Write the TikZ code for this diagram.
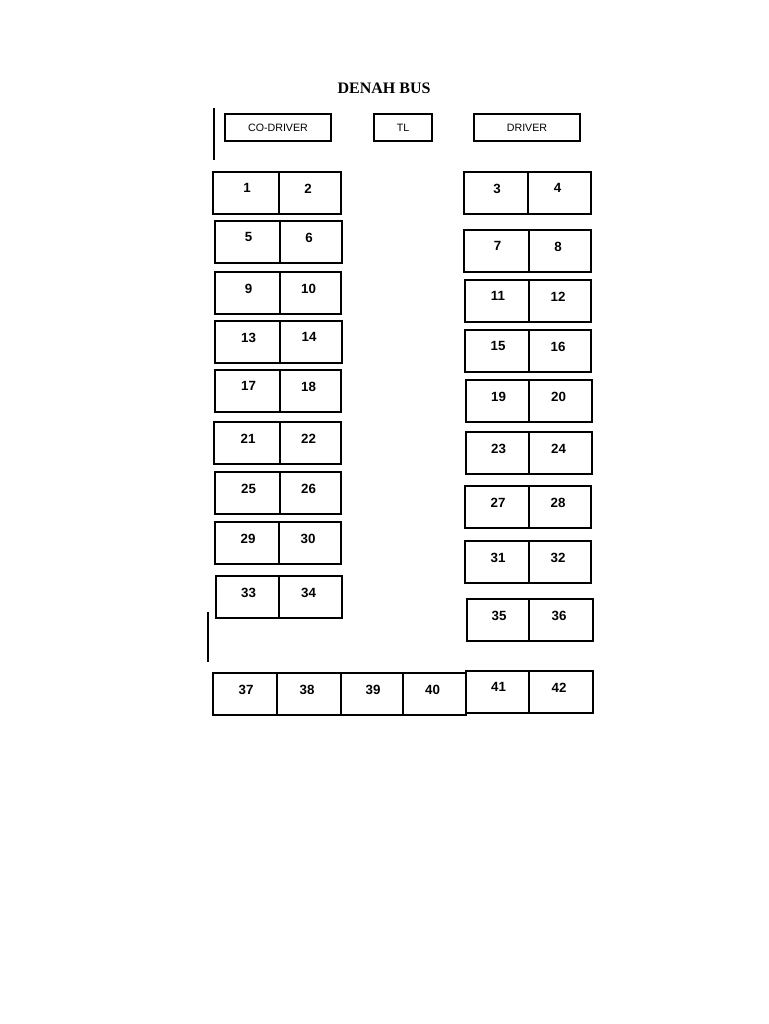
\documentclass[tikz,border=0pt]{standalone}
\usepackage{fontspec}
\setmainfont{Liberation Sans}
\newfontfamily\titlefont{Liberation Serif}
\begin{document}
\begin{tikzpicture}[x=0.75pt,y=-0.75pt,
  seatbox/.style={draw,line width=1.6pt,inner sep=0pt},
  seatnum/.style={font=\bfseries\fontsize{10}{12}\selectfont,anchor=north},
  topbox/.style={draw,line width=1.5pt,inner sep=0pt,font=\fontsize{8}{10}\selectfont}]
\useasboundingbox (0,0) rectangle (768,1024);
\node[font=\titlefont\bfseries\fontsize{12}{14}\selectfont] (title) at (384,88) {DENAH BUS};
\node[topbox,minimum width=79.5pt,minimum height=20pt] (codriver) at (278,127.5) {CO-DRIVER};
\node[topbox,minimum width=43.5pt,minimum height=20pt] (tl) at (403,127.5) {TL};
\node[topbox,minimum width=79.5pt,minimum height=20pt] (driver) at (527,127.5) {DRIVER};
\draw[line width=1.5pt] (214,108) -- (214,160);
\draw[line width=1.5pt] (208,612) -- (208,662);
\foreach \xa/\xb/\xc/\ya/\na/\nb in {
 213/279/341/172/1/2, 215/280/342/221/5/6, 215/280/341/272/9/10,
 215/280/342/321/13/14, 215/280/341/370/17/18, 214/280/341/422/21/22,
 215/280/341/472/25/26, 215/279/341/522/29/30, 216/279/342/576/33/34,
 464/528/591/172/3/4, 464/529/591/230/7/8, 465/529/591/280/11/12,
 465/529/591/330/15/16, 466/529/592/380/19/20, 466/529/592/432/23/24,
 465/529/591/486/27/28, 465/529/591/541/31/32, 467/529/593/599/35/36,
 213/277/341/673/37/38, 341/403/466/673/39/40, 466/529/593/671/41/42}{
  \node[seatbox,minimum width={(\xb-\xa)*0.75pt},minimum height=31.5pt] (s\na) at ({(\xa+\xb)/2},\ya+21) {};
  \node[seatbox,minimum width={(\xc-\xb)*0.75pt},minimum height=31.5pt] (s\nb) at ({(\xb+\xc)/2},\ya+21) {};
  \node[seatnum] (t\na) at ({(\xa+\xb)/2+1},\ya+7) {\na};
  \node[seatnum] (t\nb) at ({(\xb+\xc)/2-2},\ya+7) {\nb};
}
\end{tikzpicture}
\end{document}
